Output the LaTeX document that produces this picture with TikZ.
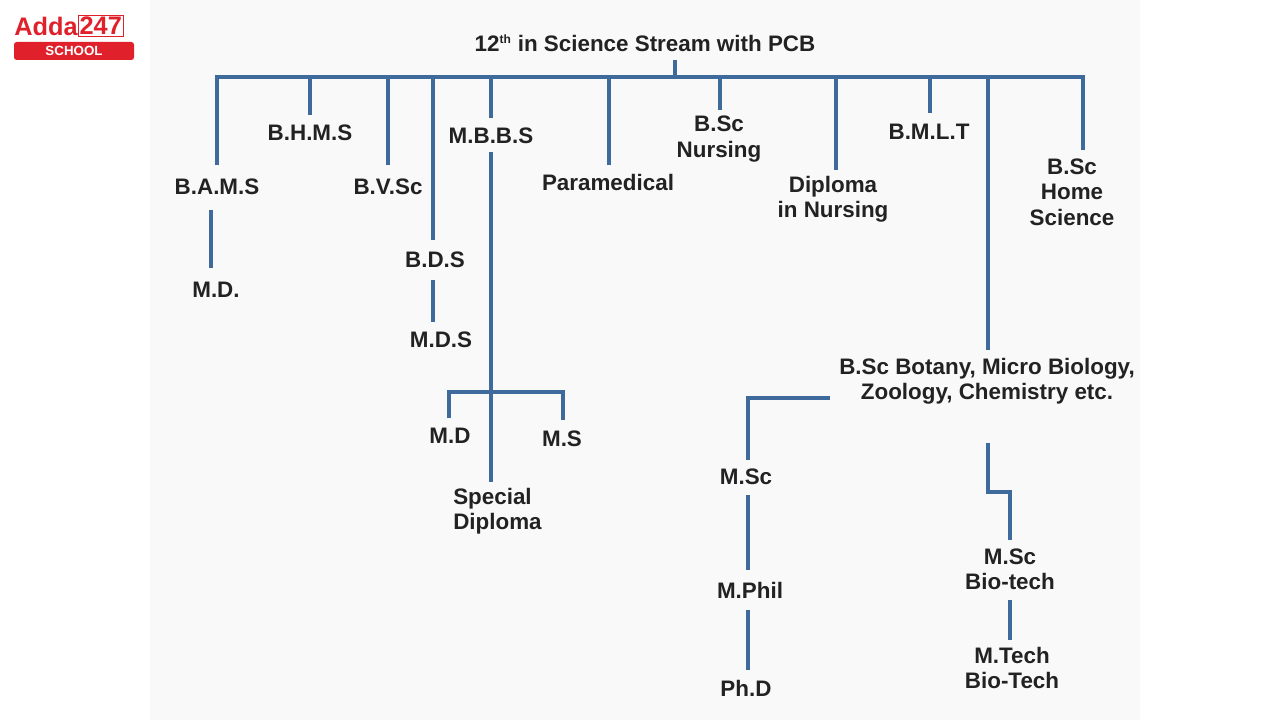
\documentclass[tikz,border=0pt]{standalone}
\usepackage{fontspec}
\setmainfont{Liberation Sans}
\definecolor{ln}{HTML}{3F6A9C}
\definecolor{tx}{HTML}{222222}
\definecolor{rd}{HTML}{E0202A}
\begin{document}
\begin{tikzpicture}[x=0.75pt,y=-0.75pt,
 l/.style={draw=ln,line width=2.8pt},
 t/.style={font=\fontsize{16.8}{19}\selectfont\bfseries,text=tx,align=center,inner sep=0pt}]
\useasboundingbox (0,0) rectangle (1280,720);
\fill[white] (0,0) rectangle (1280,720);
\fill[black!2.5] (150,0) rectangle (1140,720);
% logo
\node[font=\fontsize{19}{19}\selectfont\bfseries,text=rd,inner sep=0pt,anchor=west] (logo) at (14,26) {Adda};
\node[font=\fontsize{19}{19}\selectfont\bfseries,text=rd,inner sep=1pt,draw=rd,line width=0.6pt,anchor=west] (n247) at (logo.east) {247};
\fill[rd,rounded corners=2pt] (14,42) rectangle (134,60);
\node[font=\fontsize{10}{10}\selectfont\bfseries,text=white,inner sep=0pt] (sch) at (74,51) {SCHOOL};
% texts
\node[t] (top) at (645,43) {12\textsuperscript{\fontsize{9}{9}\selectfont th} in Science Stream with PCB};
\coordinate (s) at (675,77);
\draw[l] (675,60) -- (s);
\draw[l] (217,165) -- (217,77) -- (1083,77) -- (1083,150);
\node[t] (bams) at (217,187) {B.A.M.S};
\node[t] (md1) at (216,290) {M.D.};
\draw[l] (211,210) -- (211,268);
\draw[l] (310,77) -- (310,115); \node[t] (bhms) at (310,133) {B.H.M.S};
\draw[l] (388,77) -- (388,165); \node[t] (bvsc) at (388,187) {B.V.Sc};
\draw[l] (433,77) -- (433,240); \node[t] (bds) at (435,260) {B.D.S};
\draw[l] (433,280) -- (433,322); \node[t] (mds) at (441,340) {M.D.S};
\draw[l] (491,77) -- (491,118); \node[t] (mbbs) at (491,136) {M.B.B.S};
\draw[l] (491,152) -- (491,482);
\draw[l] (449,418) -- (449,392) -- (563,392) -- (563,420);
\node[t] (md2) at (450,436) {M.D};
\node[t] (ms) at (562,439) {M.S};
\node[t,align=left,anchor=west] (sd) at (453,511) {Special\\Diploma};
\draw[l] (609,77) -- (609,165); \node[t] (para) at (608,182) {Paramedical};
\draw[l] (720,77) -- (720,110); \node[t] (bscn) at (719,139) {B.Sc\\Nursing};
\draw[l] (836,77) -- (836,170); \node[t] (dn) at (833,199) {Diploma\\in Nursing};
\draw[l] (930,77) -- (930,113); \node[t] (bmlt) at (929,132) {B.M.L.T};
\draw[l] (988,77) -- (988,350); \node[t] (bot) at (987,381) {B.Sc Botany, Micro Biology,\\Zoology, Chemistry etc.};
\node[t] (home) at (1072,192) {B.Sc\\Home\\Science};
\draw[l] (830,398) -- (748,398) -- (748,460);
\node[t] (msc) at (746,477) {M.Sc};
\draw[l] (748,495) -- (748,570); \node[t] (mphil) at (750,590) {M.Phil};
\draw[l] (748,610) -- (748,670); \node[t] (phd) at (746,688) {Ph.D};
\draw[l] (988,443) -- (988,492) -- (1010,492) -- (1010,540);
\node[t] (mscb) at (1010,569) {M.Sc\\Bio-tech};
\draw[l] (1010,600) -- (1010,640);
\node[t] (mt) at (1012,668) {M.Tech\\Bio-Tech};
\end{tikzpicture}
\end{document}
